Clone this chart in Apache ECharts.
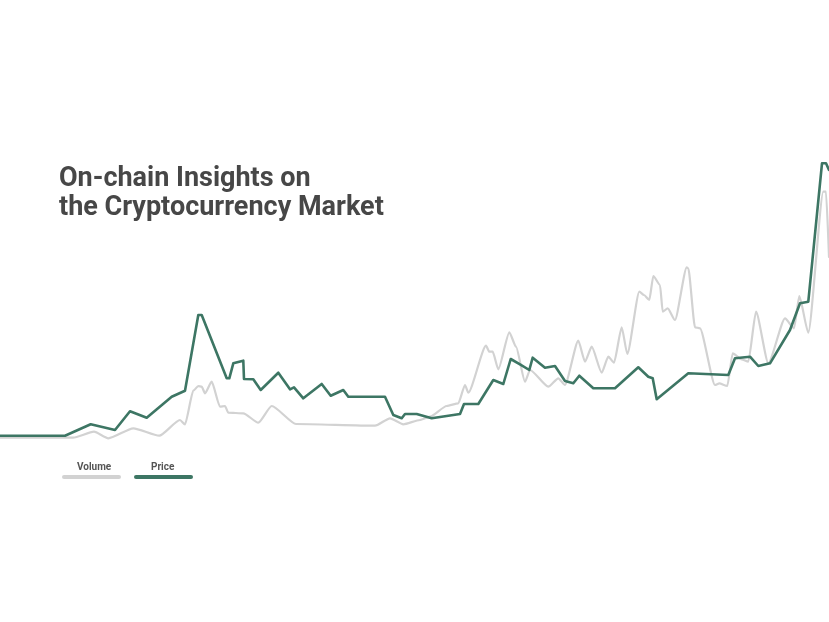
<!DOCTYPE html>
<html>
<head>
<meta charset="utf-8">
<script src="https://cdn.jsdelivr.net/npm/echarts@6/dist/echarts.min.js"></script>
<style>
html,body{margin:0;padding:0;background:#fff;}
#chart{width:829px;height:622px;}
</style>
</head>
<body>
<div id="chart"></div>
<script>
// Day index (x) and level (y)
const priceDays = [0,65,90.7,115,130,146.7,171.7,185,198.3,201.7,226.7,229.3,233.3,243.3,244,253.3,260.7,278.3,290,294,303.3,321.7,330.7,343.3,348.3,385,393.3,401.7,405,416.7,431.7,460,464,478.3,493.3,503.3,510.7,520,529.3,532.7,545,555,565,573.3,579.3,593.3,615,638.3,648.3,652.7,656.7,688.3,728.3,735,750,758.3,770,790,800,808.3,822,826,829];
const priceValues = [0.3,0.3,11.7,6,24.7,18.3,39.3,45.3,121,121,57.7,57.7,72.7,75.3,57,56.7,46,63.3,46.7,48.7,37.7,52,40.3,46,39.3,39.3,21,17.7,22,22,17.7,22,32,32,56,52,77,71.7,66,78.3,68.3,70,55,52.7,60.3,47.7,47.7,68.7,59.3,57.7,36.7,62.7,61,77.7,79.3,70,72.7,106,132.7,134.3,272.7,272.7,266];

const volumeDays = [0,73,94,108.3,133.3,159.3,180,185,193.3,198.3,201.7,205,211.7,220,225,228.3,243.3,258.3,271.7,296,375,390,403.3,420,430,446.7,458.3,465,468.3,486,489.3,492.7,498.3,509.3,516,525,530,548.3,558.3,565,578.3,585,591.7,601.7,608.3,614,621.7,627.3,639.3,644,649.3,653.3,660,662.7,667.7,675,686.7,688.3,695,700,715,719.3,727.3,732.7,741.7,748.3,756,768.3,785,794,799.3,808.3,823.3,826,829];
const volumeValues = [-1.7,-1.7,4.3,-2.3,7.7,0.3,16,11.7,45.3,50,49.3,42.7,54.3,29.3,30,23.3,22.7,13.3,30,12,10.3,17.7,11.7,16,19.3,30,32.7,51,43.3,90.3,84.3,84.3,66.7,103.7,89.3,54.3,66,49.3,57.7,51,95.3,74.3,89.3,63.3,79.3,73.3,108.7,82,144.3,141,136,160,151,124.3,127.7,116,168.7,167.7,108.7,107.7,51,52.7,50,82.7,76.7,74.3,124.3,72.7,117.7,107.7,140,103.3,244.3,244.3,179];

const seriesNames = ['Volume', 'Price'];
const titleLines = ['On-chain Insights on', 'the Cryptocurrency Market'];

const PRICE_COLOR = '#3d7664';
const VOLUME_COLOR = '#d2d2d2';

const chart = echarts.init(document.getElementById('chart'), null, {renderer: 'canvas'});
chart.setOption({
  backgroundColor: '#ffffff',
  animation: false,
  title: {
    text: titleLines.join('\n'),
    left: 59,
    top: 165,
    padding: 0,
    textStyle: {
      fontFamily: 'Roboto',
      fontWeight: 'bold',
      fontSize: 27,
      lineHeight: 29,
      color: '#474747'
    }
  },
  grid: {left: 0, right: 0, top: 146, bottom: 176, containLabel: false},
  xAxis: {
    type: 'value', min: 0, max: 829,
    show: false
  },
  yAxis: {
    type: 'value', min: -10, max: 290,
    show: false
  },
  series: [
    {
      name: seriesNames[0],
      type: 'line',
      data: volumeDays.map((d, i) => [d, volumeValues[i]]),
      showSymbol: false,
      smooth: 0.2,
      smoothMonotone: 'x',
      lineStyle: {color: VOLUME_COLOR, width: 2.2, join: 'round', cap: 'round'},
      z: 2
    },
    {
      name: seriesNames[1],
      type: 'line',
      data: priceDays.map((d, i) => [d, priceValues[i]]),
      showSymbol: false,
      smooth: false,
      lineStyle: {color: PRICE_COLOR, width: 2.6, join: 'round', cap: 'round'},
      z: 3
    }
  ],
  graphic: [
    {type: 'text', left: 77, top: 462, style: {text: seriesNames[0], fontFamily: 'Roboto', fontWeight: 'bold', fontSize: 10, fill: '#555'}},
    {type: 'line', shape: {x1: 64, y1: 477, x2: 119, y2: 477}, style: {stroke: VOLUME_COLOR, lineWidth: 4, lineCap: 'round'}},
    {type: 'text', left: 151, top: 462, style: {text: seriesNames[1], fontFamily: 'Roboto', fontWeight: 'bold', fontSize: 10, fill: '#555'}},
    {type: 'line', shape: {x1: 136, y1: 477, x2: 191, y2: 477}, style: {stroke: PRICE_COLOR, lineWidth: 4, lineCap: 'round'}}
  ]
});
</script>
</body>
</html>
